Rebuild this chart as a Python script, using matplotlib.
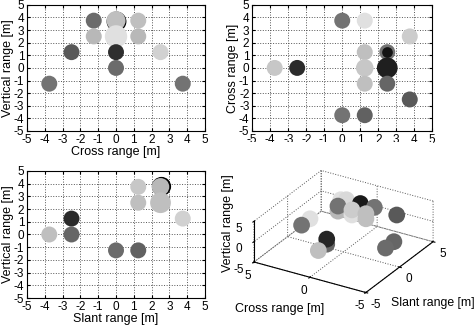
import numpy as np
import matplotlib
matplotlib.use("Agg")
import matplotlib.pyplot as plt

plt.rcParams["font.family"] = ["Liberation Sans", "DejaVu Sans"]
plt.rcParams["font.size"] = 8.5
plt.rcParams["axes.unicode_minus"] = False
plt.rcParams["grid.linestyle"] = ":"
plt.rcParams["grid.color"] = "#555555"
plt.rcParams["grid.linewidth"] = 0.7

# panel 1: cross range vs vertical range
p1_cross = [-1.25, 0, 1.25, -1.25, 0, 1.25, -2.5, 0, 2.5, 0, -3.75, 3.75]
p1_vert = [3.75, 3.75, 3.75, 2.5, 2.5, 2.5, 1.25, 1.25, 1.25, 0, -1.25, -1.25]
p1_gray = [0.42, 0.75, 0.75, 0.72, 0.88, 0.72, 0.35, 0.18, 0.82, 0.42, 0.45, 0.45]
p1_amp = [1.0, 1.2, 1.0, 1.0, 1.4, 1.0, 1.0, 1.0, 1.0, 1.0, 1.0, 1.0]
p1_ring = [(0, 3.75)]

# panel 2: slant range vs cross range
p2_slant = [0, 1.25, 3.75, 1.25, 2.5, -3.75, -2.5, 1.25, 2.5, 1.25, 2.5, 3.75, 0, 1.25]
p2_cross = [3.75, 3.75, 2.5, 1.25, 1.25, 0, 0, 0, 0, -1.25, -1.25, -2.5, -3.75, -3.75]
p2_gray = [0.45, 0.88, 0.80, 0.75, 0.45, 0.78, 0.17, 0.78, 0.12, 0.75, 0.40, 0.35, 0.45, 0.38]
p2_amp = [1.0, 1.0, 1.0, 1.0, 1.0, 1.0, 1.0, 1.1, 1.3, 1.0, 1.0, 1.0, 1.0, 1.0]
p2_core = [(2.5, 1.25, 0.08)]

# panel 3: slant range vs vertical range
p3_slant = [1.25, 2.5, 1.25, 2.5, 3.75, -2.5, -3.75, -2.5, 0, 1.25]
p3_vert = [3.75, 3.75, 2.5, 2.5, 1.25, 1.25, 0, 0, -1.25, -1.25]
p3_gray = [0.78, 0.72, 0.75, 0.75, 0.82, 0.17, 0.75, 0.40, 0.42, 0.38]
p3_amp = [1.0, 1.1, 1.0, 1.3, 1.0, 1.0, 1.0, 1.0, 1.0, 1.0]
p3_ring = [(2.5, 3.75)]

# panel 4: 3-D scatterers (cross, slant, vertical)
s_cross = [-1.25, 0, 1.25, -1.25, 0, 1.25, -1.25, 0, 1.25, 0,
           0, 0, 0, 2.5, -2.5, 3.75, 3.75, -3.75, -3.75]
s_slant = [1.25, 1.25, 1.25, 2.5, 2.5, 2.5, 1.25, 1.25, 1.25, 2.5,
           -2.5, -2.5, -3.75, 3.75, 3.75, 0, 1.25, 0, 1.25]
s_vert = [3.75, 3.75, 3.75, 3.75, 3.75, 3.75, 2.5, 2.5, 2.5, 2.5,
          1.25, 0, 0, 1.25, 1.25, -1.25, -1.25, -1.25, -1.25]
s_gray = [0.75, 0.80, 0.45, 0.45, 0.10, 0.85, 0.75, 0.88, 0.72, 0.75,
          0.15, 0.40, 0.75, 0.88, 0.35, 0.45, 0.88, 0.42, 0.40]

ticks = np.arange(-5, 6)
base = 132


def gray(v):
    return [(g, g, g) for g in v]


def setup(ax, xlabel, ylabel):
    ax.set_xlim(-5, 5)
    ax.set_ylim(-5, 5)
    ax.set_xticks(ticks)
    ax.set_yticks(ticks)
    ax.grid(True)
    ax.set_axisbelow(True)
    ax.tick_params(direction="in", length=2, pad=2, top=True, right=True)
    ax.set_xlabel(xlabel, labelpad=0.5, fontsize=9)
    ax.set_ylabel(ylabel, labelpad=0, fontsize=9)


fig = plt.figure(figsize=(4.74, 3.25), dpi=100)

ax1 = fig.add_axes([0.057, 0.597, 0.3755, 0.388])
for x, y in p1_ring:
    ax1.scatter(x, y, s=base * 1.55, color="black", lw=0, zorder=2)
ax1.scatter(p1_cross, p1_vert, s=np.array(p1_amp) ** 2 * base,
            c=gray(p1_gray), lw=0, zorder=3)
setup(ax1, "Cross range [m]", "Vertical range [m]")

ax2 = fig.add_axes([0.532, 0.597, 0.38, 0.388])
ax2.scatter(p2_slant, p2_cross, s=np.array(p2_amp) ** 2 * base,
            c=gray(p2_gray), lw=0, zorder=3)
for x, y, g in p2_core:
    ax2.scatter(x, y, s=base * 0.45, color=(g, g, g), lw=0, zorder=4)
setup(ax2, "Slant range [m]", "Cross range [m]")

ax3 = fig.add_axes([0.057, 0.083, 0.3755, 0.391])
for x, y in p3_ring:
    ax3.scatter(x, y + 0.08, s=base * 1.45, color="black", lw=0, zorder=2)
ax3.scatter(p3_slant, p3_vert, s=np.array(p3_amp) ** 2 * base,
            c=gray(p3_gray), lw=0, zorder=3)
setup(ax3, "Slant range [m]", "Vertical range [m]")

ax4 = fig.add_axes([0.5245, -0.004, 0.39, 0.568], projection="3d")
ax4.set_proj_type("ortho")
ax4.view_init(elev=27, azim=-59)
ax4.scatter(s_cross, s_slant, s_vert, s=base * 1.1, c=gray(s_gray), lw=0,
            depthshade=False, alpha=1)
ax4.set_xlim(-5, 5)
ax4.set_ylim(-5, 5)
ax4.set_zlim(-5, 5)
ax4.invert_xaxis()
ax4.set_box_aspect((1, 1, 0.35))
for a in (ax4.xaxis, ax4.yaxis, ax4.zaxis):
    a.set_ticks([-5, 0, 5])
    a.pane.fill = False
    a.pane.set_edgecolor("none")
ax4.zaxis.set_ticks_position("lower")
ax4.tick_params(pad=-2, labelsize=8.5)
fig.text(0.589, 0.05, "Cross range [m]", ha="center", va="center", fontsize=9)
fig.text(0.914, 0.068, "Slant range [m]", ha="center", va="center", fontsize=8.8)
fig.text(0.481, 0.314, "Vertical range [m]", ha="center", va="center",
         rotation=90, fontsize=9)

fig.savefig("out.png", dpi=100)
